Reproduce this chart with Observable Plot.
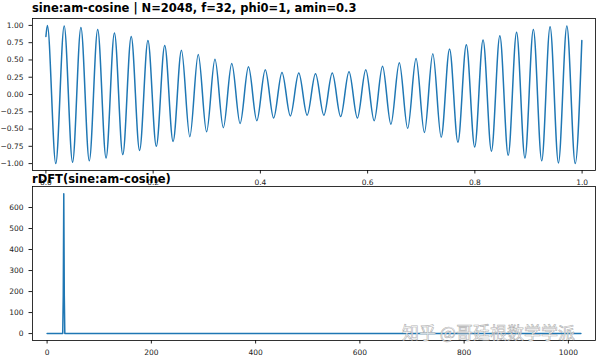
<!DOCTYPE html>
<html>
<head>
<meta charset="utf-8">
<script src="https://cdn.jsdelivr.net/npm/d3@7"></script>
<script src="https://cdn.jsdelivr.net/npm/@observablehq/plot@0.6"></script>
<style>
  html, body { margin: 0; padding: 0; background: #fff; }
  #chart { position: relative; width: 600px; height: 357px; overflow: hidden; font-family: "DejaVu Sans", sans-serif; }
  #chart svg { position: absolute; left: 0; overflow: visible; }
  .title { position: absolute; left: 32px; font-weight: bold; font-size: 11.5px; color: #000; white-space: nowrap; line-height: 1; }
  .wm { position: absolute; font-family: "Noto Sans CJK SC", sans-serif; font-size: 17px; color: rgba(255,255,255,0.9);
        -webkit-text-stroke: 0.6px rgba(140,140,140,0.7); white-space: nowrap; line-height: 1; }
</style>
</head>
<body>
<div id="chart"></div>
<script>
// ---- Top panel: extrema of the AM sine (time, value) ----
const sigT = [0, 0.0028, 0.0184, 0.0341, 0.0497, 0.0653, 0.0809, 0.0966, 0.1122, 0.1278, 0.1434,
  0.1591, 0.1747, 0.1903, 0.2059, 0.2216, 0.2372, 0.2528, 0.2684, 0.2841, 0.2997, 0.3153, 0.3309,
  0.3466, 0.3622, 0.3778, 0.3934, 0.4091, 0.4247, 0.4403, 0.4559, 0.4716, 0.4872, 0.5028, 0.5184,
  0.5341, 0.5497, 0.5653, 0.5809, 0.5966, 0.6122, 0.6278, 0.6434, 0.6591, 0.6747, 0.6903, 0.7059,
  0.7216, 0.7372, 0.7528, 0.7684, 0.7841, 0.7997, 0.8153, 0.8309, 0.8466, 0.8622, 0.8778, 0.8934,
  0.9091, 0.9247, 0.9403, 0.9559, 0.9716, 0.9872, 0.9995];
const sigY = [0.84, 1.00, -1.00, 0.99, -0.98, 0.97, -0.96, 0.94, -0.92, 0.89, -0.87, 0.84, -0.81,
  0.78, -0.75, 0.71, -0.68, 0.64, -0.61, 0.58, -0.54, 0.51, -0.48, 0.45, -0.42, 0.40, -0.38, 0.36,
  -0.34, 0.32, -0.31, 0.31, -0.30, 0.30, -0.30, 0.31, -0.32, 0.33, -0.34, 0.36, -0.38, 0.41, -0.43,
  0.46, -0.49, 0.52, -0.55, 0.59, -0.62, 0.66, -0.69, 0.72, -0.76, 0.79, -0.82, 0.85, -0.88, 0.90,
  -0.92, 0.94, -0.96, 0.98, -0.99, 0.99, -1.00, 0.78];

// ---- Bottom panel: rDFT magnitude (bin, |X|) ----
const dftBin = [0, 30, 31, 32, 33, 34, 1024];
const dftMag = [0, 0, 179, 666, 179, 0, 0];

// ---- Tick labels ----
const topXTicks = [0, 0.2, 0.4, 0.6, 0.8, 1.0];
const topYTicks = [-1.00, -0.75, -0.50, -0.25, 0.00, 0.25, 0.50, 0.75, 1.00];
const botXTicks = [0, 200, 400, 600, 800, 1000];
const botYTicks = [0, 100, 200, 300, 400, 500, 600];

const titleTop = "sine:am-cosine | N=2048, f=32, phi0=1, amin=0.3";
const titleBot = "rDFT(sine:am-cosine)";
const watermark = "知乎 @哥廷根数学学派";

const sig = sigT.map((t, i) => ({t, v: sigY[i]}));
const dft = dftBin.map((k, i) => ({k, m: dftMag[i]}));

const lineColor = "#1f77b4";
const axisStyle = {fontFamily: "DejaVu Sans, sans-serif", fontSize: "7.5px", color: "#222", background: "transparent", overflow: "visible"};

const topPlot = Plot.plot({
  width: 600, height: 186,
  marginLeft: 32, marginRight: 5, marginTop: 18, marginBottom: 16,
  style: axisStyle,
  x: {domain: [-0.025, 1.025], ticks: topXTicks, tickFormat: d3.format(".1f"), tickSize: 3.5, label: null},
  y: {domain: [-1.1, 1.1], ticks: topYTicks, tickFormat: d3.format(".2f"), tickSize: 3.5, label: null},
  marks: [
    Plot.line(sig, {x: "t", y: "v", curve: "monotone-x", stroke: lineColor, strokeWidth: 1.5}),
    Plot.frame({stroke: "#000", strokeWidth: 0.8})
  ]
});

const botPlot = Plot.plot({
  width: 600, height: 187,
  marginLeft: 32, marginRight: 5, marginTop: 16, marginBottom: 17,
  style: axisStyle,
  x: {domain: [-28, 1052], ticks: botXTicks, tickFormat: d3.format("d"), tickSize: 3.5, label: null},
  y: {domain: [-33, 700], ticks: botYTicks, tickFormat: d3.format("d"), tickSize: 3.5, label: null},
  marks: [
    Plot.line(dft, {x: "k", y: "m", stroke: lineColor, strokeWidth: 1.5}),
    Plot.frame({stroke: "#000", strokeWidth: 0.8})
  ]
});

const chart = document.getElementById("chart");
topPlot.style.top = "0px";
botPlot.style.top = "170px";
chart.appendChild(topPlot);
chart.appendChild(botPlot);

const t1 = document.createElement("div");
t1.className = "title"; t1.textContent = titleTop; t1.style.top = "3px";
chart.appendChild(t1);
const t2 = document.createElement("div");
t2.className = "title"; t2.textContent = titleBot; t2.style.top = "173.5px";
chart.appendChild(t2);
const wm = document.createElement("div");
wm.className = "wm"; wm.textContent = watermark; wm.style.left = "402px"; wm.style.top = "323px";
chart.appendChild(wm);
</script>
</body>
</html>
